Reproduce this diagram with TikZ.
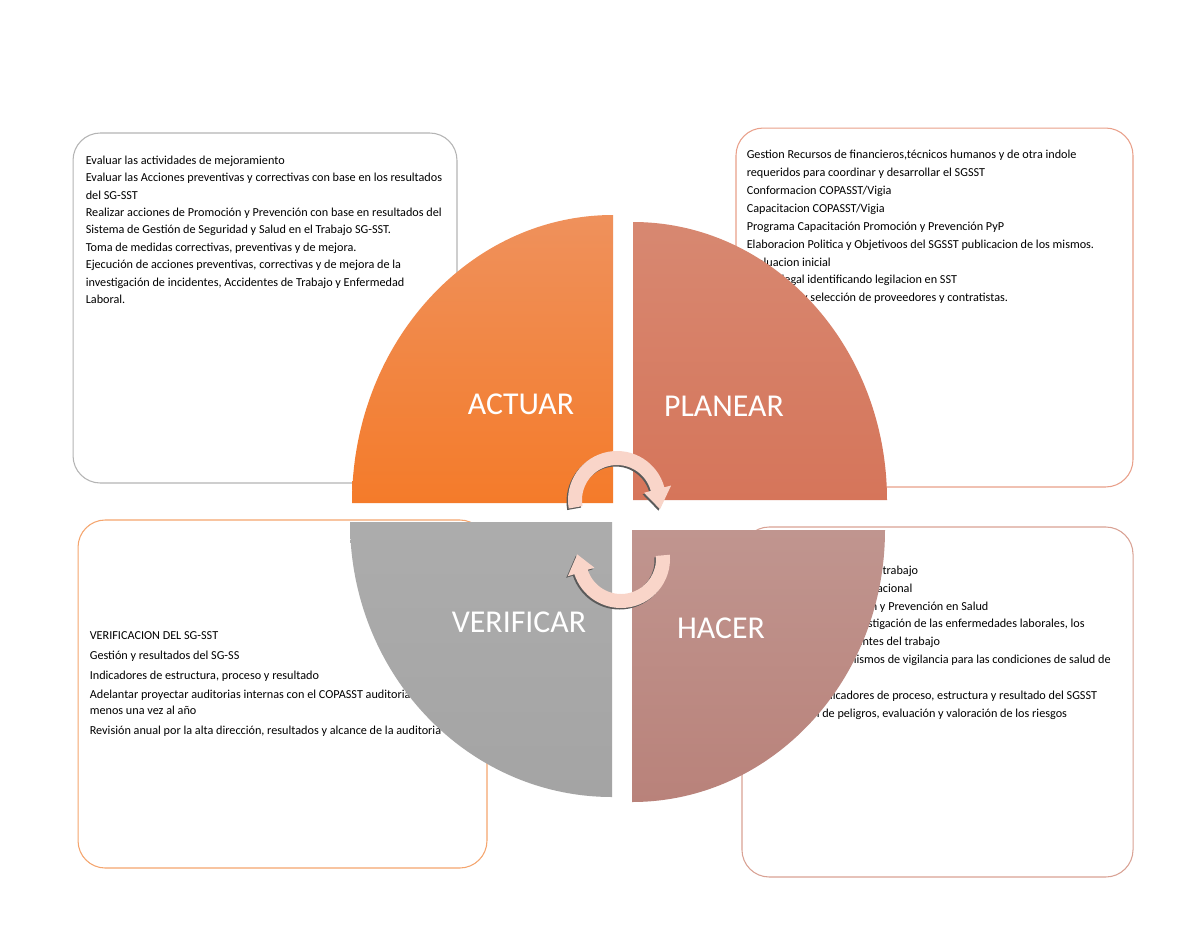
\documentclass[tikz,border=0pt]{standalone}
\usepackage{fontspec}
\setmainfont{Carlito}
\usetikzlibrary{positioning}
\definecolor{tlgray}{HTML}{B4B4B4}
\definecolor{trsalmon}{HTML}{E9A08A}
\definecolor{blorange}{HTML}{F5A56E}
\definecolor{brrose}{HTML}{D9A294}
\definecolor{actuartop}{HTML}{EF915C}
\definecolor{actuarbot}{HTML}{F47B2A}
\definecolor{planeartop}{HTML}{D78871}
\definecolor{planearbot}{HTML}{D6755A}
\definecolor{hacertop}{HTML}{C0958F}
\definecolor{hacerbot}{HTML}{B9827A}
\definecolor{verificartop}{HTML}{ACACAC}
\definecolor{verificarbot}{HTML}{A4A4A4}
\definecolor{cyclepink}{HTML}{F9D5C9}
\definecolor{cycleshadow}{HTML}{5A5A5A}

\begin{document}
\begin{tikzpicture}[x=0.66pt,y=-0.66pt]
\tikzstyle{every node}+=[inner sep=0pt]
\tikzstyle{frame}=[draw, rounded corners=18pt, line width=0.7pt, fill=white]
\tikzstyle{notes}=[anchor=north west, align=left, font=\fontsize{8.05}{11.5}\selectfont]
\tikzstyle{phase}=[text=white, font=\fontsize{21}{25}\selectfont]
\useasboundingbox (0,0) rectangle (1200,927);
\fill[white] (0,0) rectangle (1200,927);

% boxes with their notes
\node[frame, draw=tlgray, minimum width=253.4pt, minimum height=231pt] (actbox) at (265,308) {};
\node[notes] (actnotes) at ([shift={(13,23)}]actbox.north west) {Evaluar las actividades de mejoramiento\\
Evaluar las Acciones preventivas y correctivas con base en los resultados\\
del SG-SST\\
Realizar acciones de Promoción y Prevención con base en resultados del\\
Sistema de Gestión de Seguridad y Salud en el Trabajo SG-SST.\\
Toma de medidas correctivas, preventivas y de mejora.\\
Ejecución de acciones preventivas, correctivas y de mejora de la\\
investigación de incidentes, Accidentes de Trabajo y Enfermedad\\
Laboral.};

\node[frame, draw=trsalmon, minimum width=262pt, minimum height=236.9pt] (planbox) at (934.5,307.5) {};
\node[notes, font=\fontsize{8.05}{11.85}\selectfont] (plannotes) at ([shift={(11,22)}]planbox.north west) {Gestion Recursos de financieros,técnicos humanos y de otra indole\\
requeridos para coordinar y desarrollar el SGSST\\
Conformacion COPASST/Vigia\\
Capacitacion COPASST/Vigia\\
Programa Capacitación Promoción y Prevención PyP\\
Elaboracion Politica y Objetivoos del SGSST publicacion de los mismos.\\
Evaluacion inicial\\
Matriz legal identificando legilacion en SST\\
Evaluación y selección de proveedores y contratistas.};

\node[frame, draw=blorange, minimum width=269.9pt, minimum height=229.7pt] (verbox) at (282.5,694) {};
\node[notes, font=\fontsize{8.05}{10.6}\selectfont] (vernotes) at ([shift={(12,112)}]verbox.north west) {VERIFICACION DEL SG-SST\\[2.4pt]
Gestión y resultados del SG-SS\\[2.4pt]
Indicadores de estructura, proceso y resultado\\[2.4pt]
Adelantar proyectar auditorias internas con el COPASST auditoria al\\
menos una vez al año\\[2.4pt]
Revisión anual por la alta dirección, resultados y alcance de la auditoria};

\node[frame, draw=brrose, minimum width=258.1pt, minimum height=231pt] (hacbox) at (937.5,702) {};
\node[notes, font=\fontsize{8.05}{11.8}\selectfont] (hacnotes) at ([shift={(11,39)}]hacbox.north west) {Medicina Preventiva y del trabajo\\
Higiene y seguridad ocupacional\\
Programas de Promoción y Prevención en Salud\\
Registro, reporte e investigación de las enfermedades laborales, los\\
incidentes y los accidentes del trabajo\\
Establecer los mecanismos de vigilancia para las condiciones de salud de\\
los trabajadores\\
Medición de indicadores de proceso, estructura y resultado del SGSST\\
Identificación de peligros, evaluación y valoración de los riesgos};

% the four quarters
\shade[top color=actuartop, bottom color=actuarbot] (613,503) -- (352,503) arc[start angle=180, end angle=270, x radius=261, y radius=288] -- cycle;
\shade[top color=planeartop, bottom color=planearbot] (633,500) -- (633,222) arc[start angle=270, end angle=360, x radius=254, y radius=278] -- cycle;
\shade[top color=hacertop, bottom color=hacerbot] (632,530) -- (885,530) arc[start angle=0, end angle=90, x radius=253, y radius=272] -- cycle;
\shade[top color=verificartop, bottom color=verificarbot] (612,522) -- (612,797) arc[start angle=90, end angle=180, x radius=262, y radius=275] -- cycle;

\node[phase] (actuar) at (521,404) {ACTUAR};
\node[phase] (planear) at (724,406) {PLANEAR};
\node[phase] (verificar) at (519,622) {VERIFICAR};
\node[phase] (hacer) at (721,628) {HACER};

% cycle arrows, shadow first
\foreach \cx/\cy/\col in {615.5/501.5/cycleshadow, 617/500/cyclepink} {
  \begin{scope}[shift={(\cx,\cy)}]
    \fill[\col] (170:49) arc[start angle=170, end angle=345, radius=49] -- (345:56) -- (12:44) -- (345:28) -- (345:35) arc[start angle=345, end angle=170, radius=35] -- cycle;
  \end{scope}
}
\foreach \cx/\cy/\col in {619.5/560.5/cycleshadow, 621/559/cyclepink} {
  \begin{scope}[shift={(\cx,\cy)}]
    \fill[\col] (-5:49) arc[start angle=-5, end angle=162, radius=49] -- (162:56) -- (186:44) -- (162:28) -- (162:35) arc[start angle=162, end angle=-5, radius=35] -- cycle;
  \end{scope}
}
\end{tikzpicture}
\end{document}
